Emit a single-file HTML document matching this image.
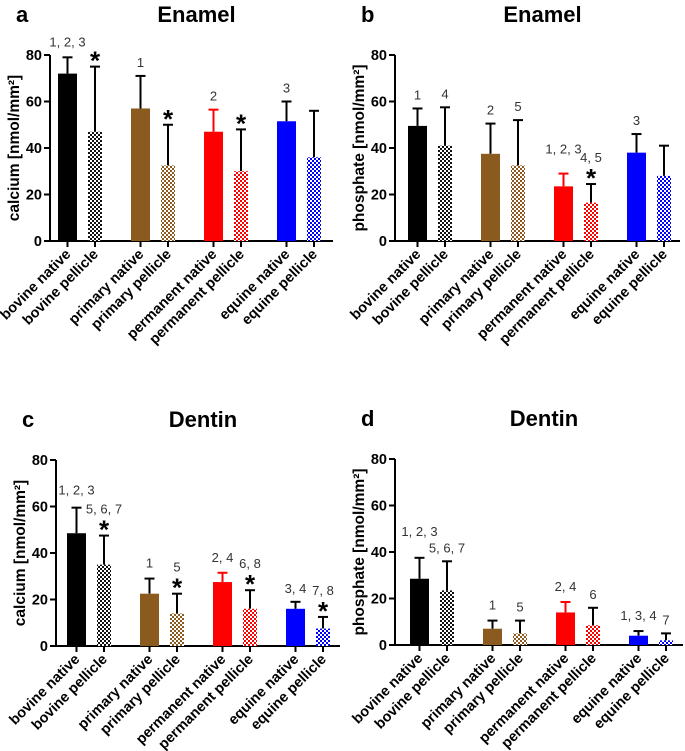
<!DOCTYPE html>
<html><head><meta charset="utf-8"><style>
body{margin:0;background:#fff;}
svg{display:block;font-family:"Liberation Sans",sans-serif;}
</style></head><body>
<svg id="fig" width="685" height="751" viewBox="0 0 685 751" xmlns="http://www.w3.org/2000/svg">
<defs>
<pattern id="p-black" width="4" height="4" patternUnits="userSpaceOnUse"><rect width="4" height="4" fill="#fff"/><rect width="2" height="2" fill="#111"/><rect x="2" y="2" width="2" height="2" fill="#111"/></pattern>
<pattern id="p-brown" width="4" height="4" patternUnits="userSpaceOnUse"><rect width="4" height="4" fill="#fff"/><rect width="2" height="2" fill="#8b5a1e"/><rect x="2" y="2" width="2" height="2" fill="#8b5a1e"/></pattern>
<pattern id="p-red" width="4" height="4" patternUnits="userSpaceOnUse"><rect width="4" height="4" fill="#fff"/><rect width="2" height="2" fill="#f00"/><rect x="2" y="2" width="2" height="2" fill="#f00"/></pattern>
<pattern id="p-blue" width="4" height="4" patternUnits="userSpaceOnUse"><rect width="4" height="4" fill="#fff"/><rect width="2" height="2" fill="#00f"/><rect x="2" y="2" width="2" height="2" fill="#00f"/></pattern>
</defs>
</svg>
<script>
const categories = ["bovine native","bovine pellicle","primary native","primary pellicle","permanent native","permanent pellicle","equine native","equine pellicle"];
const yTicks = [0,20,40,60,80];
const aNative = [72,57,47,51.5], aNativeErr = [79,71,56.5,60], aPell = [47,32.5,30,36], aPellErr = [75,50,48,56];
const bNative = [49.5,37.5,23.5,38], bNativeErr = [57,50.5,29,46], bPell = [41,32.5,16.5,28], bPellErr = [57.5,52,24.5,41];
const cNative = [48.5,22.5,27.5,16], cNativeErr = [59.5,29,31.5,19], cPell = [35,14,16,7.5], cPellErr = [47.5,22.5,24,12.5];
const dNative = [28.5,7,14,4], dNativeErr = [37.5,10.5,18.5,6], dPell = [23.5,5,8.5,2], dPellErr = [36,10.5,16,5];
const aNativeLbl = ["1, 2, 3","1","2","3"], aPellLbl = ["","","",""], aStar = [1,1,1,0];
const bNativeLbl = ["1","2","1, 2, 3","3"], bPellLbl = ["4","5","4, 5",""], bStar = [0,0,1,0];
const cNativeLbl = ["1, 2, 3","1","2, 4","3, 4"], cPellLbl = ["5, 6, 7","5","6, 8","7, 8"], cStar = [1,1,1,1];
const dNativeLbl = ["1, 2, 3","1","2, 4","1, 3, 4"], dPellLbl = ["5, 6, 7","5","6","7"], dStar = [0,0,0,0];

const colors = ["#000","#8b5a1e","#f00","#00f"];
const pats = ["url(#p-black)","url(#p-brown)","url(#p-red)","url(#p-blue)"];
const NS = "http://www.w3.org/2000/svg";
const svg = document.getElementById("fig");
function mk(tag, attrs, parent, txt){
  const e = document.createElementNS(NS, tag);
  for (const k in attrs) e.setAttribute(k, attrs[k]);
  if (txt !== undefined) e.textContent = txt;
  (parent||svg).appendChild(e);
  return e;
}
function panel(id, letter, title, ytitle, ax, y0, y80, first, axEnd, nat, natE, pel, pelE, nLbl, pLbl, star, natOff){
  const g = mk("g", {});
  
  
  const yS = v => y0 - (v/80)*(y0-y80);
  const t1 = mk("text", {x: ax-34, y: y80-33, "font-size": 22, "font-weight": "bold"}, g, letter);
  
  
  const t2 = mk("text", {x: (ax+axEnd)/2+5, y: y80-33, "font-size": 22, "font-weight": "bold", "text-anchor": "middle"}, g, title);
  
  
  const yt = mk("text", {x: 0, y: 0, "font-size": 15.5, "font-weight": "bold", "text-anchor": "middle", transform: `translate(${ax-31},${(y0+y80)/2}) rotate(-90)`}, g, ytitle);
  
  
  const ya = mk("line", {x1: ax, y1: y80, x2: ax, y2: y0+1, stroke: "#000", "stroke-width": 2}, g);
  
  
  const xa = mk("line", {x1: ax-1, y1: y0, x2: axEnd, y2: y0, stroke: "#000", "stroke-width": 2}, g);
  
  
  yTicks.forEach(v => {
    const y = yS(v);
    const tk = mk("line", {x1: ax-6, y1: y, x2: ax, y2: y, stroke: "#000", "stroke-width": 2}, g);
    
    
    const tl = mk("text", {x: ax-8, y: y+5, "font-size": 14.5, "font-weight": "bold", "text-anchor": "end"}, g, String(v));
    
    
  });
  for (let i=0;i<4;i++){
    [[nat,natE,nLbl,0],[pel,pelE,pLbl,1]].forEach(([vals,errs,lbls,k])=>{
      const x = first + i*73 + (k?30:0);
      const w = k?14:19;
      const cx = x + w/2;
      const top = yS(vals[i]), et = yS(errs[i]);
      const ecol = (k===0 && i===2) ? "#f00" : "#000";
      const el = mk("line", {x1: cx, y1: top, x2: cx, y2: et, stroke: ecol, "stroke-width": 2}, g);
      
      
      const ec = mk("line", {x1: cx-5, y1: et, x2: cx+5, y2: et, stroke: ecol, "stroke-width": 2}, g);
      
      
      const b = mk("rect", {x: x, y: top, width: w, height: y0-top, fill: k?pats[i]:colors[i]}, g);
      
      
      const tk = mk("line", {x1: cx, y1: y0, x2: cx, y2: y0+6, stroke: "#000", "stroke-width": 2}, g);
      
      
      const cl = mk("text", {x: 0, y: 0, "font-size": 14.5, "font-weight": "bold", "text-anchor": "end", transform: `translate(${cx+4},${y0+14}) rotate(-45)`}, g, categories[i*2+k]);
      
      
      const hasStar = k===1 && star[i];
      if (hasStar){
        const s = mk("text", {x: cx, y: et+3, "font-size": 26, "font-weight": "bold", "text-anchor": "middle"}, g, "*");
        
        
      }
      if (lbls[i]){
        const off = hasStar ? 22 : (k===0 ? natOff[i] : 9);
        const lt = mk("text", {x: cx, y: et-off, "font-size": 13, fill: "#333", "text-anchor": "middle"}, g, lbls[i]);
        
        
      }
    });
  }
}
panel("a","a","Enamel","calcium [nmol/mm²]",50,241,55,58,333,aNative,aNativeErr,aPell,aPellErr,aNativeLbl,aPellLbl,aStar,[11,9,9,9]);
panel("b","b","Enamel","phosphate [nmol/mm²]",395,241,55,408,680,bNative,bNativeErr,bPell,bPellErr,bNativeLbl,bPellLbl,bStar,[9,9,20,9]);
panel("c","c","Dentin","calcium [nmol/mm²]",56,646,460,67,340,cNative,cNativeErr,cPell,cPellErr,cNativeLbl,cPellLbl,cStar,[13,11,11,9]);
panel("d","d","Dentin","phosphate [nmol/mm²]",395,645,459,410,683,dNative,dNativeErr,dPell,dPellErr,dNativeLbl,dPellLbl,dStar,[22,11,11,11]);
</script>
</body></html>
